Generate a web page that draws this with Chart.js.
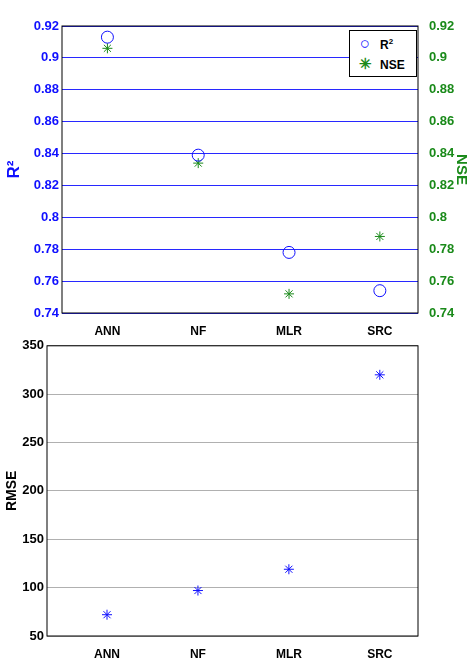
<!DOCTYPE html>
<html><head><meta charset="utf-8">
<script src="https://cdn.jsdelivr.net/npm/chart.js@4"></script>
<style>
body{margin:0;background:#fff;font-family:"Liberation Sans",Arial,sans-serif}
.box{position:absolute;left:0;width:474px}
#legend{position:absolute;left:349px;top:30px;width:66px;height:45px;border:1px solid #000;background:#fff;font-size:12px;font-weight:bold}
#legend div{height:22px;line-height:22px}
</style></head><body>
<div class="box" style="top:0;height:340px"><canvas id="top"></canvas></div>
<div class="box" style="top:335px;height:333px"><canvas id="bot"></canvas></div>
<div id="legend">
<div><span style="color:#1010ff;display:inline-block;width:30px;text-align:center;font-size:17px">○</span>R<sup style="font-size:8px">2</sup></div>
<div><span style="color:#1a8a1a;display:inline-block;width:30px;text-align:center;font-size:15px">✳</span>NSE</div>
</div>
<script>
const models = ["ANN", "NF", "MLR", "SRC"];
const r2 = [0.913, 0.839, 0.778, 0.754];
const nse = [0.906, 0.834, 0.752, 0.788];
const rmse = [72, 97, 119, 320];

const font = { family: "Liberation Sans", size: 13, weight: "bold" };
const pts = (vals) => vals.map((v, i) => ({ x: i + 1, y: v }));

// draws the black frame around the plot area
const frame = {
  id: "frame",
  afterDraw(chart) {
    const a = chart.chartArea, c = chart.ctx;
    c.save(); c.strokeStyle = "#000"; c.lineWidth = 1;
    c.strokeRect(a.left, a.top, a.right - a.left, a.bottom - a.top);
    c.restore();
  },
};

function xAxis(min) {
  return {
    type: "linear", min: min, max: 4.42,
    afterBuildTicks: (s) => { s.ticks = [1, 2, 3, 4].map((v) => ({ value: v })); },
    ticks: { callback: (v) => models[v - 1], color: "#000", font: { family: "Liberation Sans", size: 12, weight: "bold" }, autoSkip: false },
    grid: { display: false },
    border: { display: false },
  };
}

new Chart(document.getElementById("top"), {
  type: "scatter",
  data: {
    datasets: [
      { data: pts(r2), yAxisID: "y", pointStyle: "circle", radius: 6, borderColor: "#1010ff", backgroundColor: "transparent", borderWidth: 1 },
      { data: pts(nse), yAxisID: "y2", pointStyle: "star", radius: 5, borderColor: "#1a8a1a", backgroundColor: "transparent", borderWidth: 1 },
    ],
  },
  options: {
    responsive: true, maintainAspectRatio: false, animation: false,
    layout: { padding: { top: 26 } },
    plugins: { legend: { display: false }, tooltip: { enabled: false } },
    scales: {
      x: Object.assign(xAxis(0.5), { afterFit: (s) => { s.height = 27; } }),
      y: {
        min: 0.74, max: 0.92,
        ticks: { stepSize: 0.02, color: "#1010ff", font, callback: (v) => +v.toFixed(2) },
        grid: { color: "rgba(40,40,255,1)", lineWidth: 1, drawTicks: false },
        border: { display: false },
        title: { display: true, text: "R²", color: "#1010ff", font: { family: "Liberation Sans", size: 17, weight: "bold" } },
        afterFit: (s) => { s.width = 62; },
      },
      y2: {
        position: "right", min: 0.74, max: 0.92,
        ticks: { stepSize: 0.02, color: "#1a8a1a", font, callback: (v) => +v.toFixed(2) },
        grid: { display: false },
        border: { display: false },
        title: { display: true, text: "NSE", color: "#1a8a1a", font: { family: "Liberation Sans", size: 15, weight: "bold" } },
        afterFit: (s) => { s.width = 56; },
      },
    },
  },
  plugins: [frame],
});

new Chart(document.getElementById("bot"), {
  type: "scatter",
  data: {
    datasets: [
      { data: pts(rmse), pointStyle: "star", radius: 5, borderColor: "#1010ff", backgroundColor: "transparent", borderWidth: 1 },
    ],
  },
  options: {
    responsive: true, maintainAspectRatio: false, animation: false,
    layout: { padding: { top: 10, right: 56 } },
    plugins: { legend: { display: false }, tooltip: { enabled: false } },
    scales: {
      x: Object.assign(xAxis(0.34), { afterFit: (s) => { s.height = 32; } }),
      y: {
        min: 50, max: 350,
        ticks: { stepSize: 50, color: "#000", font },
        grid: { color: "#b0b0b0", drawTicks: false },
        border: { display: false },
        title: { display: true, text: "RMSE", color: "#000", font: { family: "Liberation Sans", size: 14, weight: "bold" } },
        afterFit: (s) => { s.width = 47; },
      },
    },
  },
  plugins: [frame],
});
</script>
</body></html>
